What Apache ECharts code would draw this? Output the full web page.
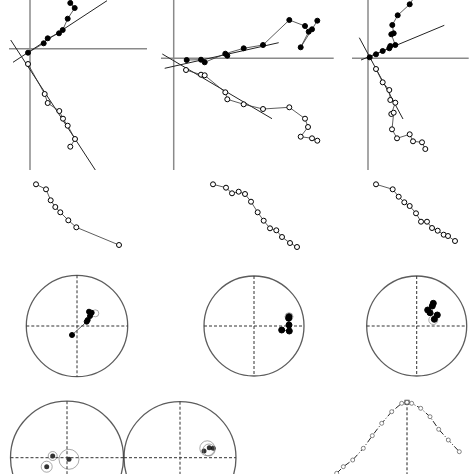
<!DOCTYPE html><html><head><meta charset="utf-8">
<script src="https://cdn.jsdelivr.net/npm/echarts@6/dist/echarts.min.js"></script>
<style>html,body{margin:0;background:#fff}#c{width:474px;height:474px}</style></head><body><div id="c"></div>
<script>
// Panel 1 (Zijderveld)
const z1Axes=[[[30,0],[30,170]],[[9,48.7],[147,48.7]]];
const z1Filled=[[28,52.7],[43.7,43.3],[47.7,38.3],[59,33.3],[62.7,30],[67.7,18.7],[74.7,8],[70.3,3],[72,-2]];
const z1FitF=[[13,62.3],[107,0.7]];
const z1Open=[[28,64],[44.7,94],[47.7,103],[59.3,111],[63,118.7],[67.7,125.7],[75,139],[70.3,146.7]];
const z1FitO=[[10.7,40],[95.3,170]];
// Panel 2
const z2Axes=[[[173.7,0],[173.7,170]],[[161,58.3],[333.7,58.3]]];
const z2Filled=[[186.7,60],[201,59.7],[204.7,62.3],[225.3,53.7],[227.3,55.7],[243.7,48.3],[263,45],[289.3,20],[305,26],[308.7,31.7],[300.7,47.3],[312,29.3],[317.3,20.7]];
const z2FitF=[[164.7,68.3],[278.7,42.7]];
const z2Open=[[186,70],[201,74.7],[204.7,75.3],[225.3,92.3],[227.3,99.3],[243.7,104.3],[263,109],[289.3,107.3],[305,118.7],[308,127],[300.7,136.7],[312,138.3],[317.3,140.7]];
const z2FitO=[[162.3,54],[272,118.7]];
// Panel 3
const z3Axes=[[[368,0],[368,170]],[[352,58.3],[468.7,58.3]]];
const z3Filled=[[369.7,57.3],[376,54.3],[382.7,51],[389.3,48.3],[390.3,46],[395.3,45],[391.3,34.3],[393.7,33.3],[392.3,25],[397.7,15.3],[409.7,4.3],[413,-1]];
const z3FitF=[[361,60],[444.3,25.3]];
const z3Open=[[376,69],[382.7,82.3],[389.3,90],[390.3,100],[395.3,102.7],[391.3,114],[393.7,112.7],[392,129.3],[397,138.3],[409.7,134.3],[413,141.3],[422,142.3],[425.3,149]];
const z3FitO=[[359.3,37.7],[403,119]];
// Row 2 curves
const r2a=[[36,184.3],[46,189.3],[50.7,200.3],[55.3,207],[60.3,212.3],[68.3,220.3],[76.3,227.3],[119,245]];
const r2b=[[213,184.3],[226,187.7],[232,193.3],[238.7,191.7],[245,194],[251,201.7],[257.7,212.3],[263.7,220.7],[270,228.3],[276.3,230.3],[282,237],[290,243],[297,247]];
const r2c=[[376,184.3],[392.7,189.3],[398.7,196.7],[404.3,202.3],[409.7,206],[416,213.3],[421,221.7],[427,221.7],[432,228],[437.7,230.7],[443.7,234.7],[448,236],[455,241]];
// Stereonets: [cx, cy, r]
const nets=[[77,326,50.7],[254,326,50],[416.7,326,50],[67,457.7,56.5],[180,457.7,56]];
const net1Pts=[[72,335],[86.7,321.7],[87.7,320],[90,316],[89,311.7],[91.7,312.7]];
const net2Pts=[[281.7,330],[289.3,331],[289,325],[288.7,318.3],[289,316.7]];
const net3Pts=[[433.3,303.3],[432.3,306],[427.7,310],[430,312.7],[437.3,315],[434.3,319.3]];
const net4Pts=[[52.7,456],[46.7,466.7],[69,459.3]];
const net5Pts=[[204,451],[209.3,447.7],[213.3,448.3]];
// confidence circles [x,y,r]
const conf=[[95.3,313.3,3.5],[289,316.7,4],[433.3,320,4.5],[52.7,456,4.5],[46.7,466.7,5.5],[69,459.3,10],[207.3,448.3,7.5],[209,450,6]];
// Last panel
const curveL=[[336.7,473.3],[343.3,466.7],[352.7,460],[363.3,448.3],[372.3,435.7],[381.7,423.3],[391.7,411.7],[401.7,403.3],[407,402.3]];
const curveR=[[407,402.3],[411.7,403.3],[420.7,408.3],[430,416.7],[438.7,429.3],[448.3,440],[459.3,451.7]];
const peak=[[407,402.3]];

const S=[];
const gray='#8a8a8a';
function line(d,o){S.push(Object.assign({type:'line',data:d,showSymbol:false,silent:true,lineStyle:{color:'#222',width:1},animation:false},o||{}));}
function axes(a){a.forEach(d=>line(d,{lineStyle:{color:gray,width:1.5}}));}
function pts(d,filled,sz){line(d,{showSymbol:true,symbol:'circle',symbolSize:sz||5,lineStyle:{color:'#333',width:0.8},itemStyle:{color:filled?'#000':'#fff',borderColor:'#000',borderWidth:1}});}
function sc(d,o){S.push(Object.assign({type:'scatter',data:d,silent:true,animation:false},o));}
[[z1Axes,z1Filled,z1FitF,z1Open,z1FitO],[z2Axes,z2Filled,z2FitF,z2Open,z2FitO],[z3Axes,z3Filled,z3FitF,z3Open,z3FitO]].forEach(p=>{
 axes(p[0]);line(p[2]);line(p[4]);pts(p[1],true);pts(p[3],false);
});
[r2a,r2b,r2c].forEach(d=>pts(d,false));
nets.forEach(n=>{
 sc([[n[0],n[1]]],{symbolSize:2*n[2],itemStyle:{color:'rgba(0,0,0,0)',borderColor:'#333',borderWidth:1.3}});
 line([[n[0]-n[2],n[1]],[n[0]+n[2],n[1]]],{lineStyle:{color:'#333',width:1,type:[3,2]}});
 line([[n[0],n[1]-n[2]],[n[0],n[1]+n[2]]],{lineStyle:{color:'#333',width:1,type:[3,2]}});
});
pts(net1Pts,true);pts(net2Pts,true,6);pts(net3Pts,true,6);
sc(net4Pts,{symbolSize:5,itemStyle:{color:'#000'}});
sc(net5Pts,{symbolSize:5,itemStyle:{color:'#000'}});
conf.forEach(c=>sc([[c[0],c[1]]],{symbolSize:2*c[2],itemStyle:{color:'rgba(0,0,0,0)',borderColor:'#777',borderWidth:0.8}}));
line([[407,402.3],[407,474]],{lineStyle:{color:'#222',width:1,type:[3,2]}});
[curveL,curveR].forEach(d=>line(d,{showSymbol:true,symbol:'circle',symbolSize:4,lineStyle:{color:'#222',width:1,type:[6,2,1,2]},itemStyle:{color:'#fff',borderColor:'#666',borderWidth:0.8}}));
sc(peak,{symbol:'rect',symbolSize:5,itemStyle:{color:'#000'}});

const ch=echarts.init(document.getElementById('c'));
ch.setOption({animation:false,grid:{left:0,right:0,top:0,bottom:0},
 xAxis:{type:'value',min:0,max:474,show:false},
 yAxis:{type:'value',min:0,max:474,inverse:true,show:false},
 series:S});
</script></body></html>
